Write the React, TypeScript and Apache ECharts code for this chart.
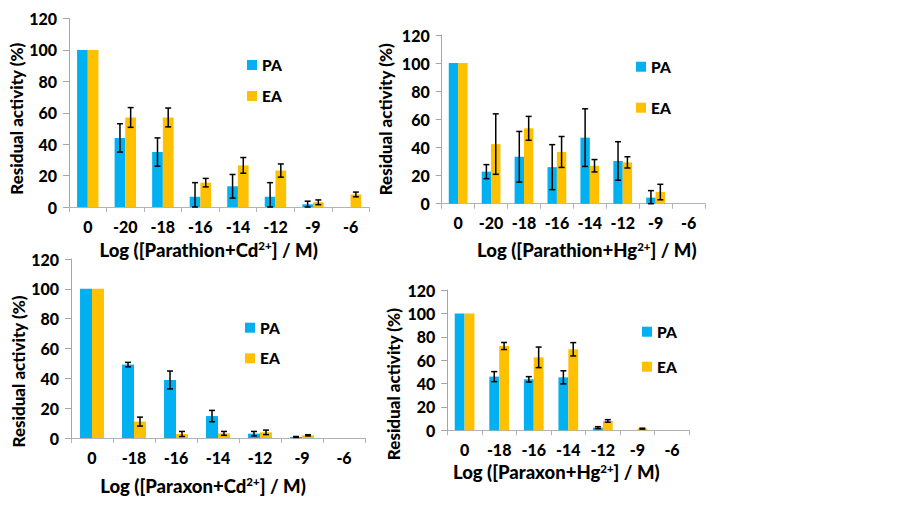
import React, { useEffect, useRef } from "react";
import * as echarts from "echarts";

// Categories (log concentration)
const catsParathion = ["0", "-20", "-18", "-16", "-14", "-12", "-9", "-6"];
const catsParaxon = ["0", "-18", "-16", "-14", "-12", "-9", "-6"];

// Panel 1: Parathion + Cd2+
const p1PA = [100, 44, 35, 6.5, 13.2, 6.5, 1.7, 0];
const p1PAErr = [0, 9, 9, 9, 7.5, 9, 2, 0];
const p1EA = [100, 57, 57, 15.5, 26.5, 23.2, 3, 8];
const p1EAErr = [0, 6.3, 6, 2.7, 5, 4.2, 1.5, 1.5];

// Panel 2: Parathion + Hg2+
const p2PA = [100, 22.8, 33.4, 26, 47, 30.4, 4.3, 0];
const p2PAErr = [0, 5, 18, 16, 20.5, 13.7, 5, 0];
const p2EA = [100, 42.4, 53.6, 36.8, 27, 29.4, 8.3, 0];
const p2EAErr = [0, 21.5, 8.5, 11, 4.4, 4, 5.5, 0];

// Panel 3: Paraxon + Cd2+
const p3PA = [100, 49.2, 38.9, 14.7, 2.9, 0.7, 0];
const p3PAErr = [0, 1.5, 6, 3.8, 1.5, 0.3, 0];
const p3EA = [100, 11, 2.7, 3.1, 3.8, 1.8, 0];
const p3EAErr = [0, 3, 1.7, 1.3, 1.5, 0.4, 0];

// Panel 4: Paraxon + Hg2+
const p4PA = [100, 45.9, 43.6, 45.3, 2.3, 0, 0];
const p4PAErr = [0, 4.3, 2.3, 5.6, 0.8, 0, 0];
const p4EA = [100, 72.1, 62.4, 69.3, 8, 1.4, 0];
const p4EAErr = [0, 3, 8.8, 5.7, 1.1, 0.4, 0];

const seriesNames = ["PA", "EA"];
const yTitle = "Residual activity (%)";
const xTitles = [
  "Log ([Parathion+Cd{sup|2+}] / M)",
  "Log ([Parathion+Hg{sup|2+}] / M)",
  "Log ([Paraxon+Cd{sup|2+}] / M)",
  "Log ([Paraxon+Hg{sup|2+}] / M)",
];

const PA_COLOR = "#00B0F0";
const EA_COLOR = "#FFC000";
const FONT = "Lato";
const WEIGHT = 900;
const GAP = 0.43;

function errSeries(xi: number, values: number[], errs: number[], sign: number) {
  return {
    type: "custom",
    name: sign < 0 ? "PA err" : "EA err",
    xAxisIndex: xi,
    yAxisIndex: xi,
    z: 5,
    silent: true,
    data: values.map((v, i) => [i, v, errs[i]]),
    encode: { x: 0, y: 1 },
    renderItem: (params: any, api: any) => {
      const e = api.value(2);
      if (!e) return null;
      const i = api.value(0);
      const v = api.value(1);
      const band = api.size([1, 0])[0];
      const bw = (band * (1 - GAP)) / 2;
      const top = api.coord([i, v + e]);
      const bot = api.coord([i, Math.max(0, v - e)]);
      const x = top[0] + (sign * bw) / 2;
      const cap = 3;
      const style = { stroke: "#000", lineWidth: 1.5 };
      return {
        type: "group",
        children: [
          { type: "line", shape: { x1: x, y1: top[1], x2: x, y2: bot[1] }, style },
          { type: "line", shape: { x1: x - cap, y1: top[1], x2: x + cap, y2: top[1] }, style },
          { type: "line", shape: { x1: x - cap, y1: bot[1], x2: x + cap, y2: bot[1] }, style },
        ],
      };
    },
  };
}

export default function App() {
  const ref = useRef<HTMLDivElement>(null);
  useEffect(() => {
    if (!ref.current) return;
    const chart = echarts.init(ref.current, null, { renderer: "svg" });

    const grids = [
      { left: 69, top: 18.5, width: 300.3, height: 188.5 },
      { left: 441.7, top: 35, width: 263.3, height: 168.7 },
      { left: 71, top: 259, width: 294, height: 179 },
      { left: 447.3, top: 290, width: 242, height: 140.3 },
    ];
    const cats = [catsParathion, catsParathion, catsParaxon, catsParaxon];
    const xNameGap = [32.5, 36.5, 37.5, 32];
    const xNamePad = [
      [0, 21, 0, 0],
      [0, 0, 0, 27],
      [0, 30, 0, 0],
      [0, 24, 0, 0],
    ];
    const yNameGap = [39, 47.5, 41, 45];
    const yNamePad = [
      [0, 12, 0, 0],
      [0, 0, 0, 0],
      [0, 46, 0, 0],
      [0, 48, 0, 0],
    ];
    const legendPos = [
      { left: 247, top: 57, itemGap: 15 },
      { left: 636, top: 58.7, itemGap: 25 },
      { left: 245, top: 319.7, itemGap: 14.6 },
      { left: 642, top: 323.7, itemGap: 19 },
    ];
    const pa = [p1PA, p2PA, p3PA, p4PA];
    const paErr = [p1PAErr, p2PAErr, p3PAErr, p4PAErr];
    const ea = [p1EA, p2EA, p3EA, p4EA];
    const eaErr = [p1EAErr, p2EAErr, p3EAErr, p4EAErr];

    const labelStyle = { fontFamily: FONT, fontWeight: WEIGHT, fontSize: 16, color: "#000" };

    const series: any[] = [];
    for (let k = 0; k < 4; k++) {
      series.push({
        type: "bar",
        name: seriesNames[0],
        xAxisIndex: k,
        yAxisIndex: k,
        data: pa[k],
        barGap: "0%",
        barCategoryGap: GAP * 100 + "%",
        itemStyle: { color: PA_COLOR },
      });
      series.push({
        type: "bar",
        name: seriesNames[1],
        xAxisIndex: k,
        yAxisIndex: k,
        data: ea[k],
        barGap: "0%",
        barCategoryGap: GAP * 100 + "%",
        itemStyle: { color: EA_COLOR },
      });
      series.push(errSeries(k, pa[k], paErr[k], -1));
      series.push(errSeries(k, ea[k], eaErr[k], 1));
    }

    chart.setOption({
      animation: false,
      backgroundColor: "#fff",
      grid: grids,
      legend: legendPos.map((l) => ({
        data: seriesNames,
        orient: "vertical",
        left: l.left,
        top: l.top,
        itemGap: l.itemGap,
        padding: 0,
        icon: "rect",
        itemWidth: 10,
        itemHeight: 10,
        selectedMode: false,
        textStyle: { fontFamily: FONT, fontWeight: WEIGHT, fontSize: 15.5, color: "#000", lineHeight: 16 },
      })),
      xAxis: grids.map((g, k) => ({
        type: "category",
        gridIndex: k,
        data: cats[k],
        boundaryGap: true,
        axisLine: { show: true, lineStyle: { color: "#b3b3b3", width: 1 } },
        axisTick: { show: true, length: 5, lineStyle: { color: "#b3b3b3" } },
        axisLabel: { ...labelStyle, margin: 11 },
        splitLine: { show: false },
        name: xTitles[k],
        nameLocation: "middle",
        nameGap: xNameGap[k],
        nameTextStyle: {
          fontFamily: FONT,
          fontWeight: WEIGHT,
          fontSize: 18.5,
          color: "#000",
          lineHeight: 20,
          padding: xNamePad[k],
          rich: {
            sup: { fontFamily: FONT, fontWeight: WEIGHT, fontSize: 11.5, color: "#000", verticalAlign: "top", lineHeight: 11 },
          },
        },
      })),
      yAxis: grids.map((g, k) => ({
        type: "value",
        gridIndex: k,
        min: 0,
        max: 120,
        interval: 20,
        axisLine: { show: true, lineStyle: { color: "#a6a6a6", width: 1 } },
        axisTick: { show: true, length: 6, lineStyle: { color: "#a6a6a6" } },
        axisLabel: { ...labelStyle, margin: 12 },
        splitLine: { show: false },
        name: yTitle,
        nameLocation: "middle",
        nameGap: yNameGap[k],
        nameTextStyle: {
          fontFamily: FONT,
          fontWeight: WEIGHT,
          fontSize: 17,
          color: "#000",
          padding: yNamePad[k],
        },
      })),
      series,
    });
    return () => chart.dispose();
  }, []);
  return (
    <div
      ref={ref}
      style={{ position: "fixed", left: 0, top: 0, width: 902, height: 514, background: "#fff" }}
    />
  );
}
